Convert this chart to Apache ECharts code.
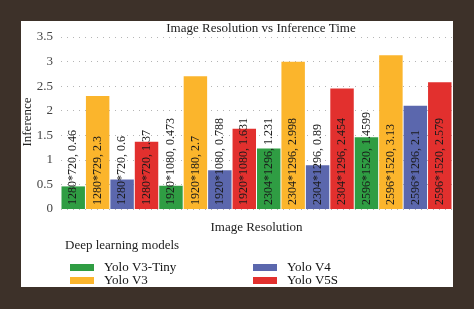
<!DOCTYPE html>
<html>
<head>
  <meta charset="utf-8">
  <title>Image Resolution vs Inference Time</title>
  <script src="https://cdn.jsdelivr.net/npm/echarts@6/dist/echarts.min.js"></script>
  <style>
    body { margin: 0; background: #3d3129; }
    #container { width: 474px; height: 309px; }
  </style>
</head>
<body>
  <div id="container"></div>
  <script>
    // models, in the order their bars repeat along the x axis
    var models = ['Yolo V3-Tiny', 'Yolo V3', 'Yolo V4', 'Yolo V5S'];
    var colors = ['#2f9d43', '#fbb52c', '#5b67ad', '#e2302e'];

    // resolution label and inference time for each bar of each model
    var resTiny = ['1280*720', '1920*1080', '2304*1296', '2596*1520'];
    var valTiny = [0.46, 0.473, 1.231, 1.4599];
    var resV3 = ['1280*729', '1920*180', '2304*1296', '2596*1520'];
    var valV3 = [2.3, 2.7, 2.998, 3.13];
    var resV4 = ['1280*720', '1920*1080', '2304*1296', '2596*1296'];
    var valV4 = [0.6, 0.788, 0.89, 2.1];
    var resV5S = ['1280*720', '1920*1080', '2304*1296', '2596*1520'];
    var valV5S = [1.37, 1.631, 2.454, 2.579];

    var yTicks = [0, 0.5, 1, 1.5, 2, 2.5, 3, 3.5];

    var resAll = [resTiny, resV3, resV4, resV5S];
    var valAll = [valTiny, valV3, valV4, valV5S];

    // 16 bars: each group holds one bar per model
    var cats = [];
    var barLabels = [];
    for (var g = 0; g < 4; g++) {
      for (var m = 0; m < 4; m++) {
        cats.push(g * 4 + m);
        barLabels.push(resAll[m][g] + ', ' + valAll[m][g]);
      }
    }

    var serif = '"Liberation Serif", "DejaVu Serif", serif';

    var series = models.map(function (name, m) {
      var data = cats.map(function (c) {
        return c % 4 === m ? valAll[m][Math.floor(c / 4)] : '-';
      });
      return {
        name: name,
        type: 'bar',
        stack: 'all',
        barCategoryGap: '4%',
        itemStyle: { color: colors[m] },
        label: {
          show: true,
          position: 'insideBottom',
          rotate: 90,
          align: 'left',
          verticalAlign: 'middle',
          distance: 4,
          fontFamily: serif,
          fontSize: 12,
          color: '#1a1a1a',
          formatter: function (p) { return barLabels[p.dataIndex]; }
        },
        data: data
      };
    });

    var myChart = echarts.init(document.getElementById('container'));
    var option = {
      animation: false,
      backgroundColor: '#3d3129',
      graphic: [{
        type: 'rect',
        z: -10,
        shape: { x: 21, y: 21, width: 432, height: 266 },
        style: { fill: '#ffffff' }
      }, {
        type: 'text',
        left: 65,
        top: 239,
        style: { text: 'Deep learning models', fontFamily: serif, fontSize: 13, fill: '#222' }
      }, {
        // y axis name
        type: 'text',
        x: 28,
        y: 122,
        rotation: Math.PI / 2,
        style: {
          text: 'Inference', fontFamily: serif, fontSize: 13, fill: '#222',
          textAlign: 'center', textVerticalAlign: 'middle'
        }
      }],
      title: {
        text: 'Image Resolution vs Inference Time',
        left: 256,
        textAlign: 'center',
        top: 17,
        textStyle: { fontFamily: serif, fontSize: 13, fontWeight: 'normal', color: '#222' }
      },
      legend: [{
        data: models.slice(0, 2),
        left: 65,
        top: 256,
        orient: 'vertical',
        icon: 'rect',
        itemWidth: 24,
        itemHeight: 7,
        itemGap: 0,
        textStyle: { fontFamily: serif, fontSize: 13, color: '#111', padding: [0, 0, 0, 5] }
      }, {
        data: models.slice(2, 4),
        left: 248,
        top: 256,
        orient: 'vertical',
        icon: 'rect',
        itemWidth: 24,
        itemHeight: 7,
        itemGap: 0,
        textStyle: { fontFamily: serif, fontSize: 13, color: '#111', padding: [0, 0, 0, 5] }
      }],
      grid: { left: 61, right: 22, top: 37, bottom: 100 },
      xAxis: {
        type: 'category',
        data: cats,
        name: 'Image Resolution',
        nameLocation: 'middle',
        nameGap: 12,
        nameTextStyle: { fontFamily: serif, fontSize: 13, color: '#222' },
        axisLine: { show: false },
        axisTick: { show: false },
        axisLabel: { show: false }
      },
      yAxis: {
        type: 'value',
        min: yTicks[0],
        max: yTicks[yTicks.length - 1],
        interval: 0.5,
        axisLabel: { fontFamily: serif, fontSize: 13, color: '#444', margin: 8 },
        splitLine: { lineStyle: { color: '#b5b5b5', type: [1, 5], width: 1 } }
      },
      series: series
    };
    myChart.setOption(option);
  </script>
</body>
</html>
